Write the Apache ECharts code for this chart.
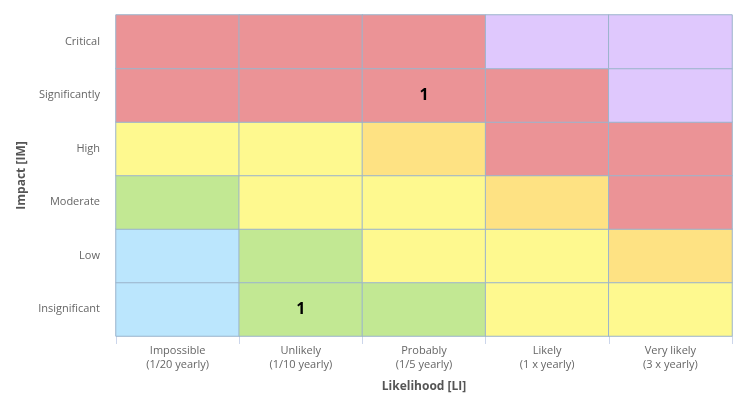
<!DOCTYPE html>
<html>
<head>
<meta charset="utf-8">
<script src="https://cdn.jsdelivr.net/npm/echarts@6/dist/echarts.min.js"></script>
<style>
  html, body { margin: 0; padding: 0; background: #fff; }
  #chart { width: 748px; height: 398px; }
</style>
</head>
<body>
<div id="chart"></div>
<script>
// 横轴：可能性
const likelihood = ['Impossible\n(1/20 yearly)', 'Unlikely\n(1/10 yearly)', 'Probably\n(1/5 yearly)', 'Likely\n(1 x yearly)', 'Very likely\n(3 x yearly)']
// 纵轴：影响（自下而上）
const impact = ['Insignificant', 'Low', 'Moderate', 'High', 'Significantly', 'Critical']

// 风险等级，行顺序与 impact 相同（自下而上）
// 0 蓝 1 绿 2 黄 3 橙 4 红 5 紫
const riskLevel = [
    [0, 1, 1, 2, 2],
    [0, 1, 2, 2, 3],
    [1, 2, 2, 3, 4],
    [2, 2, 3, 4, 4],
    [4, 4, 4, 4, 5],
    [4, 4, 4, 5, 5]
]
// 每格中的事件数
const counts = [
    [0, 1, 0, 0, 0],
    [0, 0, 0, 0, 0],
    [0, 0, 0, 0, 0],
    [0, 0, 0, 0, 0],
    [0, 0, 1, 0, 0],
    [0, 0, 0, 0, 0]
]
const levelColors = ['#bbe6fd', '#c2e893', '#fef98f', '#fee283', '#eb9396', '#dfc8fd']

const data = []
riskLevel.forEach((row, y) => {
    row.forEach((level, x) => {
        data.push([x, y, level, counts[y][x]])
    })
})

const font = 'Open Sans'
const chart = echarts.init(document.getElementById('chart'))
chart.setOption({
    animation: false,
    grid: { left: 116, right: 16, top: 15, bottom: 61 },
    xAxis: {
        type: 'category',
        data: likelihood,
        name: 'Likelihood [LI]',
        nameLocation: 'middle',
        nameGap: 45,
        nameTextStyle: { fontFamily: font, fontWeight: 'bold', fontSize: 12, color: '#555' },
        axisLine: { show: false },
        axisTick: { show: true, length: 8, lineStyle: { color: '#ccd6eb' } },
        splitArea: { show: false },
        axisLabel: { fontFamily: font, fontSize: 11, color: '#666', margin: 8, lineHeight: 14 }
    },
    yAxis: {
        type: 'category',
        data: impact,
        name: 'Impact [IM]',
        nameLocation: 'middle',
        nameGap: 88,
        nameTextStyle: { fontFamily: font, fontWeight: 'bold', fontSize: 12, color: '#555' },
        axisLine: { show: false },
        axisTick: { show: false },
        axisLabel: { fontFamily: font, fontSize: 11, color: '#666', margin: 16 }
    },
    visualMap: {
        show: false,
        type: 'piecewise',
        dimension: 2,
        pieces: levelColors.map((c, i) => ({ value: i, color: c }))
    },
    series: [{
        type: 'heatmap',
        data: data,
        itemStyle: { borderColor: '#9bb4cc', borderWidth: 1 },
        label: {
            show: true,
            formatter: p => p.value[3] ? String(p.value[3]) : '',
            fontFamily: font,
            fontWeight: 'bold',
            fontSize: 16,
            color: '#000'
        }
    }]
})
</script>
</body>
</html>
